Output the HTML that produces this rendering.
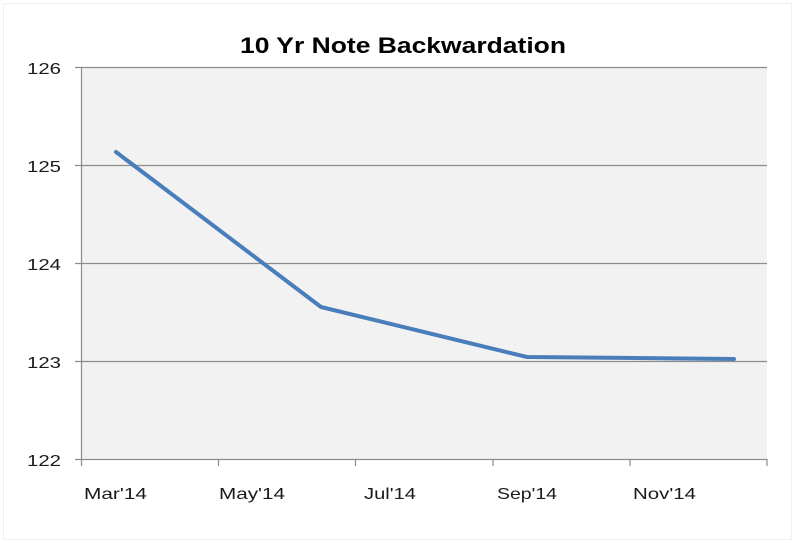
<!DOCTYPE html>
<html><head><meta charset="utf-8"><style>
html,body{margin:0;padding:0;background:#fff;}
svg{display:block;}
text{font-family:"Liberation Sans",sans-serif;fill:#1a1a1a;}
</style></head><body>
<svg width="795" height="543" viewBox="0 0 795 543" xmlns="http://www.w3.org/2000/svg">
<rect x="0" y="0" width="795" height="543" fill="#fff"/>
<rect x="3.5" y="3.5" width="788" height="536" fill="none" stroke="#f0f0f0" stroke-width="1"/>
<rect x="81" y="67" width="686" height="392" fill="#f2f2f2"/>
<g stroke="#8c8c8c" stroke-width="1.2">
<line x1="75" y1="67.5" x2="767" y2="67.5"/>
<line x1="75" y1="165.5" x2="767" y2="165.5"/>
<line x1="75" y1="263.5" x2="767" y2="263.5"/>
<line x1="75" y1="361.5" x2="767" y2="361.5"/>
<line x1="75" y1="459.5" x2="767" y2="459.5"/>
<line x1="81.5" y1="67" x2="81.5" y2="466"/>
<line x1="218.5" y1="459" x2="218.5" y2="466"/>
<line x1="355.5" y1="459" x2="355.5" y2="466"/>
<line x1="493" y1="459" x2="493" y2="466"/>
<line x1="630" y1="459" x2="630" y2="466"/>
<line x1="767" y1="459" x2="767" y2="466"/>
</g>
<polyline points="116,152 321,307 527,357 734,359" fill="none" stroke="#4a7ebb" stroke-width="4" stroke-linejoin="round" stroke-linecap="round"/>
<text x="240" y="53" font-size="22" font-weight="bold" textLength="326" lengthAdjust="spacingAndGlyphs" style="fill:#000">10 Yr Note Backwardation</text>
<g font-size="16">
<text x="27" y="74" textLength="34" lengthAdjust="spacingAndGlyphs">126</text>
<text x="27" y="172" textLength="34" lengthAdjust="spacingAndGlyphs">125</text>
<text x="27" y="270" textLength="34" lengthAdjust="spacingAndGlyphs">124</text>
<text x="27" y="368" textLength="34" lengthAdjust="spacingAndGlyphs">123</text>
<text x="27" y="466" textLength="34" lengthAdjust="spacingAndGlyphs">122</text>
<text x="84" y="499" textLength="63" lengthAdjust="spacingAndGlyphs">Mar'14</text>
<text x="219" y="499" textLength="66" lengthAdjust="spacingAndGlyphs">May'14</text>
<text x="364" y="499" textLength="52" lengthAdjust="spacingAndGlyphs">Jul'14</text>
<text x="497" y="499" textLength="60" lengthAdjust="spacingAndGlyphs">Sep'14</text>
<text x="633" y="499" textLength="63" lengthAdjust="spacingAndGlyphs">Nov'14</text>
</g>
</svg>
</body></html>
